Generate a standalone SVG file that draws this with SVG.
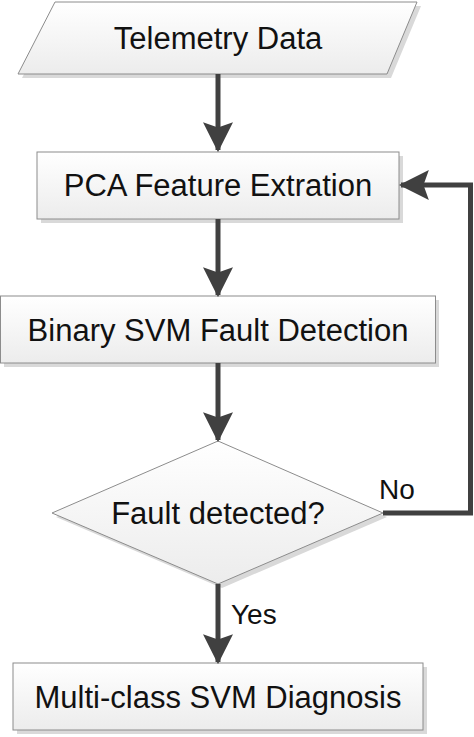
<svg xmlns="http://www.w3.org/2000/svg" width="474" height="737" viewBox="0 0 474 737">
<defs>
<linearGradient id="g" x1="0" y1="0" x2="0" y2="1">
<stop offset="0" stop-color="#ffffff"/>
<stop offset="1" stop-color="#ececec"/>
</linearGradient>
<marker id="ah" markerUnits="userSpaceOnUse" markerWidth="30" markerHeight="30" viewBox="0 0 28 28" refX="26" refY="14" orient="auto">
<path d="M0,0 L28,14 L0,28 L5,14 Z" fill="#404040"/>
</marker>
</defs>
<style>
.shape{fill:url(#g);stroke:#8c8c8c;stroke-width:1}
.shadow{fill:#d9d9d9;stroke:none}
.lbl{font-family:"Liberation Sans",Arial,sans-serif;font-size:31px;fill:#111;text-anchor:middle}
.edge{fill:none;stroke:#404040;stroke-width:5}
.el{font-family:"Liberation Sans",Arial,sans-serif;font-size:28px;fill:#111}
</style>
<g id="telemetry">
<polygon class="shadow" points="59,6 421,6 391,78 22,78"/>
<polygon class="shape" points="55,2 417,2 387,74 18,74"/>
<text class="lbl" x="218" y="49">Telemetry Data</text>
</g>
<g id="pca">
<rect class="shadow" x="41" y="156" width="362" height="67"/>
<rect class="shape" x="37" y="152" width="362" height="67"/>
<text class="lbl" x="218" y="196">PCA Feature Extration</text>
</g>
<g id="binary">
<rect class="shadow" x="4" y="300" width="435" height="67"/>
<rect class="shape" x="0.5" y="296" width="435" height="67"/>
<text class="lbl" x="218" y="341">Binary SVM Fault Detection</text>
</g>
<g id="decision">
<polygon class="shadow" points="222,445 387,517 222,588 56,517"/>
<polygon class="shape" points="218,441 383,513 218,584 52,513"/>
<text class="lbl" x="218" y="524">Fault detected?</text>
</g>
<g id="multiclass">
<rect class="shadow" x="17" y="667" width="410" height="67"/>
<rect class="shape" x="13" y="663" width="410" height="67"/>
<text class="lbl" x="218" y="708">Multi-class SVM Diagnosis</text>
</g>
<g id="connectors">
<line class="edge" x1="218" y1="74" x2="218" y2="150" marker-end="url(#ah)"/>
<line class="edge" x1="218" y1="219" x2="218" y2="295" marker-end="url(#ah)"/>
<line class="edge" x1="218" y1="363" x2="218" y2="440" marker-end="url(#ah)"/>
<line class="edge" x1="218" y1="584" x2="218" y2="662" marker-end="url(#ah)"/>
<polyline class="edge" points="383,513 470.5,513 470.5,185 401,185" marker-end="url(#ah)"/>
<text class="el" x="379" y="499">No</text>
<text class="el" x="231" y="624">Yes</text>
</g>
</svg>
